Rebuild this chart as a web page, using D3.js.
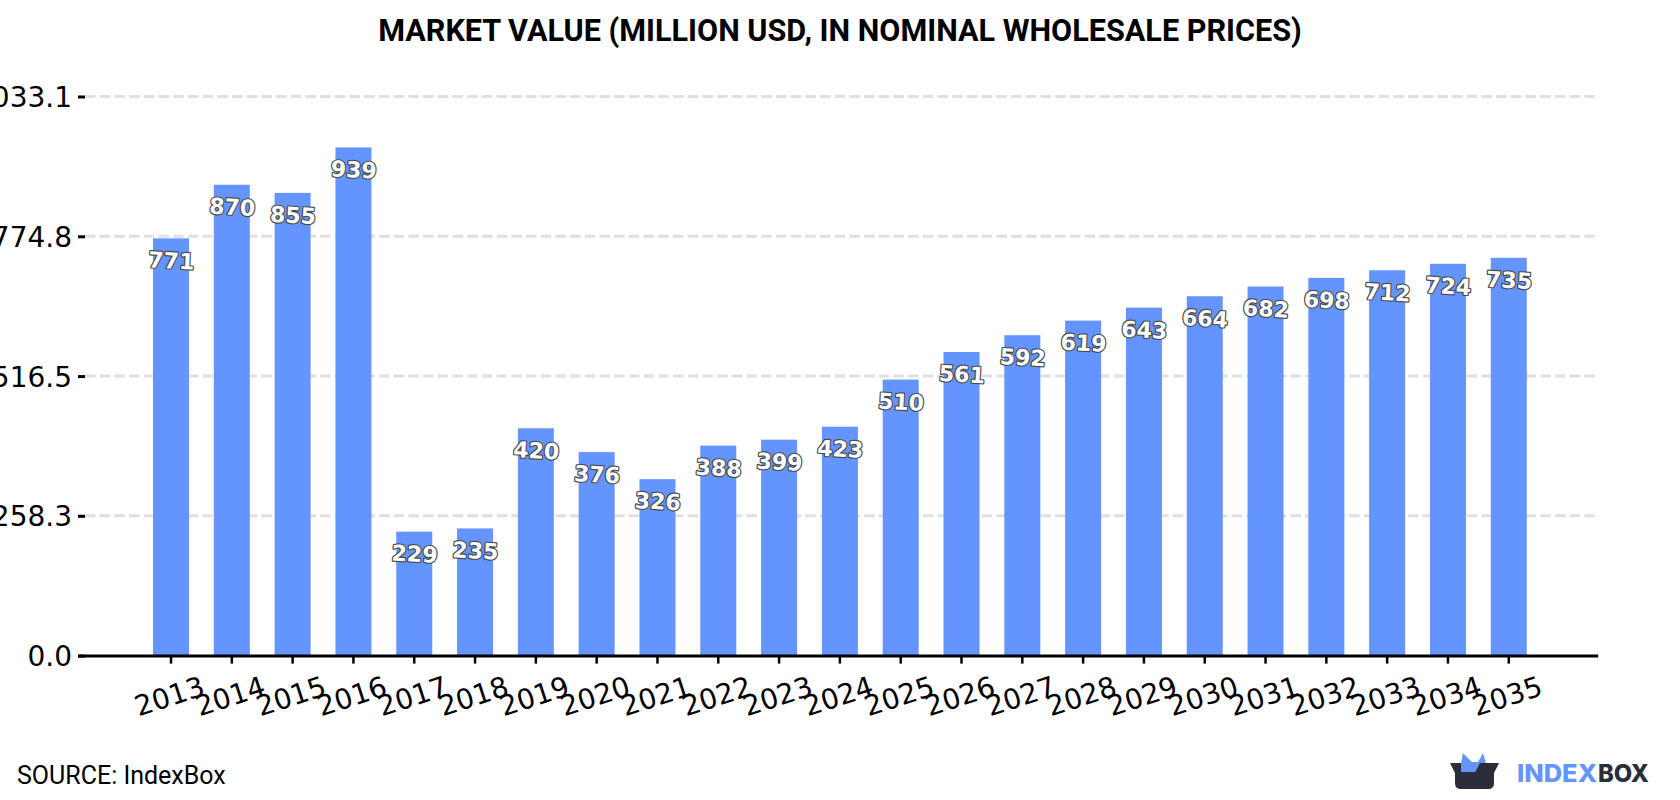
<!DOCTYPE html>
<html>
<head>
<meta charset="utf-8">
<script src="https://cdn.jsdelivr.net/npm/d3@7"></script>
<style>
html,body{margin:0;padding:0;background:#fff;}
svg{display:block;}
</style>
</head>
<body>
<svg id="chart" width="1680" height="800"></svg>
<script>
const years = ["2013","2014","2015","2016","2017","2018","2019","2020","2021","2022","2023","2024","2025","2026","2027","2028","2029","2030","2031","2032","2033","2034","2035"];
const marketValue = [771,870,855,939,229,235,420,376,326,388,399,423,510,561,592,619,643,664,682,698,712,724,735];
const yTicks = [0,258.3,516.5,774.8,1033.1];
const chartTitle = "MARKET VALUE (MILLION USD, IN NOMINAL WHOLESALE PRICES)";
const sourceText = "SOURCE: IndexBox";

const barColor = "#6495ff", inkDark = "#2b2d3a";
const svg = d3.select("#chart");
const plotLeft = 78, plotRight = 1597.7, plotTop = 96.5, plotBottom = 655.6;

const x = d3.scaleBand().domain(years).range([plotLeft,plotRight]).paddingInner(0.408).paddingOuter(1.2).align(0.514);
const y = d3.scaleLinear().domain([0,1033.1]).range([plotBottom,plotTop]);

svg.append("text").attr("x",840).attr("y",41).attr("text-anchor","middle")
  .style("font","700 30.6px Roboto").attr("fill","#000").text(chartTitle);

// Value gridlines
svg.append("g").selectAll("line").data(yTicks.slice(1)).join("line")
  .attr("x1",plotLeft+7).attr("x2",plotRight)
  .attr("y1",d=>y(d)).attr("y2",d=>y(d))
  .attr("stroke","#e0e0e0").attr("stroke-width",3).attr("stroke-dasharray","10.5 4.2");

// Bars
svg.append("g").selectAll("rect").data(years).join("rect")
  .attr("x",d=>x(d)).attr("width",x.bandwidth())
  .attr("y",(d,i)=>y(marketValue[i]))
  .attr("height",(d,i)=>plotBottom-y(marketValue[i]))
  .attr("fill",barColor);

// Left axis
const yAxis = svg.append("g").attr("transform",`translate(${plotLeft+7},0)`)
  .call(d3.axisLeft(y).tickValues(yTicks).tickSize(7).tickPadding(6).tickFormat(d3.format(".1f")));
yAxis.select(".domain").remove();
yAxis.selectAll("line").attr("stroke","#000").attr("stroke-width",3);
yAxis.selectAll("text").attr("fill","#000").style("font","28px 'DejaVu Sans'").attr("dy","0.36em");

// Bottom axis
const xAxis = svg.append("g").attr("transform",`translate(0,${plotBottom})`)
  .call(d3.axisBottom(x).tickSize(8).tickSizeOuter(0).tickPadding(10));
xAxis.select(".domain").attr("stroke","#000").attr("stroke-width",3);
xAxis.selectAll("line").attr("stroke","#000").attr("stroke-width",2.5);
xAxis.selectAll("text").attr("fill","#000").style("font","28px 'DejaVu Sans'")
  .attr("text-anchor","middle").attr("dy","0.71em")
  .attr("transform","rotate(-18) translate(-14,10)");

// Value labels inside the top of each bar
svg.append("g").selectAll("text").data(years).join("text")
  .attr("transform",(d,i)=>`translate(${x(d)+x.bandwidth()/2},${y(marketValue[i])+30}) rotate(3)`)
  .attr("text-anchor","middle")
  .style("font","700 22px 'DejaVu Sans'")
  .attr("fill","#fff").attr("stroke","#4a4a4a").attr("stroke-width",2.4)
  .attr("paint-order","stroke").attr("stroke-linejoin","round")
  .text((d,i)=>marketValue[i]);

svg.append("text").attr("x",17).attr("y",784).style("font","25px Roboto").attr("fill","#000").text(sourceText);

// Logo mark and wordmark
const logo = svg.append("g").attr("aria-label","IndexBox");
logo.append("path").attr("fill",barColor).attr("d","M1461 772 L1461 763 L1463 753 L1472 762 L1478 762 L1483 753 L1486 763 L1479 765 L1475 772 Z");
logo.append("path").attr("fill",inkDark).attr("d","M1450 763 L1461 763 L1461 772 L1475 772 L1480 763 L1499 763 L1494 773 L1494 783 Q1494 789 1488 789 L1461 789 Q1455 789 1455 783 L1455 773 Z");
logo.append("text").attr("x",1517).attr("y",782).style("font","800 24px Inter")
  .attr("fill",barColor).attr("textLength",80).attr("lengthAdjust","spacingAndGlyphs").text("INDEX");
logo.append("text").attr("x",1598).attr("y",782).style("font","800 24px Inter")
  .attr("fill",inkDark).attr("textLength",51).attr("lengthAdjust","spacingAndGlyphs").text("BOX");
</script>
</body>
</html>
